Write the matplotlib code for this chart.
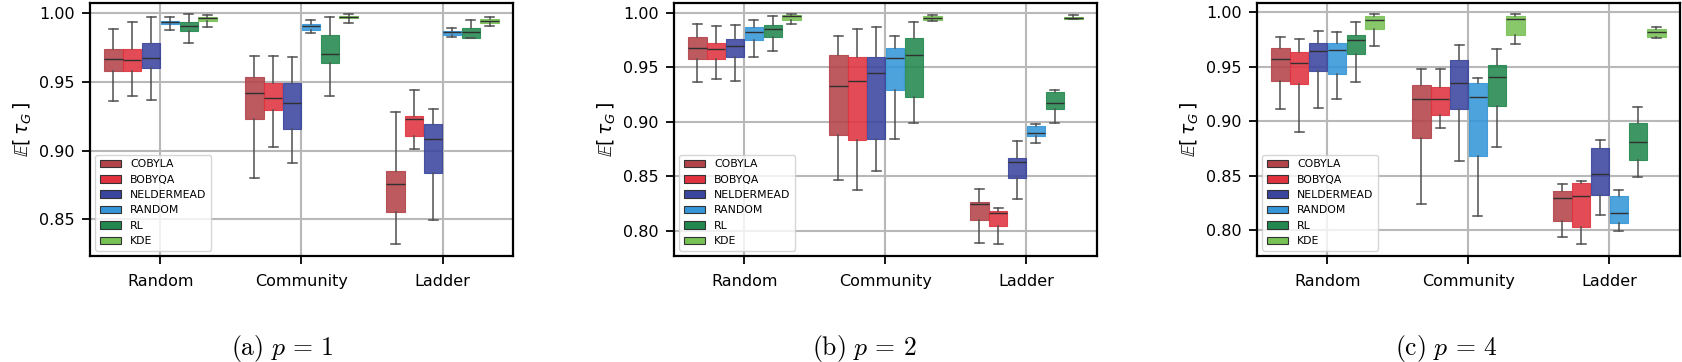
import matplotlib
matplotlib.use("Agg")
import matplotlib.pyplot as plt
from matplotlib.patches import Patch
from matplotlib.ticker import MultipleLocator

methods = ["COBYLA", "BOBYQA", "NELDERMEAD", "RANDOM", "RL", "KDE"]
colors = ["#b3434a", "#e0333f", "#3a459e", "#3496d8", "#23884f", "#78c155"]
graphs = ["Random", "Community", "Ladder"]
captions = [r"$\mathrm{(a)}\ p\,=\,1$", r"$\mathrm{(b)}\ p\,=\,2$", r"$\mathrm{(c)}\ p\,=\,4$"]

# p = 1 : one row per graph type, one value per method
p1_low = [[0.9359, 0.9398, 0.9370, 0.9876, 0.9780, 0.9898],
          [0.8800, 0.9027, 0.8907, 0.9854, 0.9400, 0.9927],
          [0.8317, 0.9010, 0.8493, 0.9829, 0.9817, 0.9905]]
p1_q1 = [[0.9580, 0.9580, 0.9600, 0.9920, 0.9866, 0.9944],
         [0.9232, 0.9298, 0.9159, 0.9876, 0.9634, 0.9963],
         [0.8556, 0.9105, 0.8834, 0.9841, 0.9817, 0.9927]]
p1_med = [[0.9663, 0.9656, 0.9670, 0.9932, 0.9905, 0.9961],
          [0.9415, 0.9385, 0.9349, 0.9905, 0.9700, 0.9973],
          [0.8756, 0.9227, 0.9085, 0.9859, 0.9859, 0.9944]]
p1_q3 = [[0.9741, 0.9740, 0.9780, 0.9941, 0.9932, 0.9973],
         [0.9532, 0.9490, 0.9490, 0.9917, 0.9839, 0.9980],
         [0.8849, 0.9251, 0.9195, 0.9868, 0.9893, 0.9959]]
p1_high = [[0.9885, 0.9932, 0.9968, 0.9968, 0.9990, 0.9983],
           [0.9690, 0.9690, 0.9683, 0.9946, 0.9971, 0.9990],
           [0.9280, 0.9437, 0.9302, 0.9893, 0.9946, 0.9968]]

# p = 2
p2_low = [[0.9366, 0.9391, 0.9372, 0.9600, 0.9655, 0.9898],
          [0.8468, 0.8375, 0.8551, 0.8846, 0.8991, 0.9926],
          [0.7886, 0.7874, 0.8292, 0.8806, 0.8991, 0.9942]]
p2_q1 = [[0.9582, 0.9582, 0.9600, 0.9751, 0.9778, 0.9935],
         [0.8877, 0.8834, 0.8843, 0.9295, 0.9231, 0.9935],
         [0.8102, 0.8040, 0.8486, 0.8871, 0.9123, 0.9942]]
p2_med = [[0.9683, 0.9674, 0.9695, 0.9822, 0.9855, 0.9969],
          [0.9326, 0.9375, 0.9449, 0.9585, 0.9612, 0.9957],
          [0.8249, 0.8166, 0.8634, 0.8898, 0.9178, 0.9951]]
p2_q3 = [[0.9778, 0.9723, 0.9766, 0.9871, 0.9889, 0.9978],
         [0.9612, 0.9600, 0.9594, 0.9677, 0.9769, 0.9969],
         [0.8262, 0.8178, 0.8671, 0.8966, 0.9271, 0.9963]]
p2_high = [[0.9898, 0.9880, 0.9892, 0.9935, 0.9972, 0.9988],
           [0.9788, 0.9858, 0.9868, 0.9788, 0.9914, 0.9978],
           [0.8382, 0.8209, 0.8825, 0.8985, 0.9289, 0.9978]]

# p = 4
p4_low = [[0.9117, 0.8905, 0.9126, 0.9209, 0.9360, 0.9689],
          [0.8243, 0.8938, 0.8637, 0.8129, 0.8766, 0.9708],
          [0.7935, 0.7871, 0.8138, 0.7991, 0.8492, 0.9763]]
p4_q1 = [[0.9372, 0.9345, 0.9458, 0.9437, 0.9615, 0.9852],
         [0.8849, 0.9058, 0.9114, 0.8683, 0.9142, 0.9791],
         [0.8089, 0.8034, 0.8323, 0.8071, 0.8643, 0.9772]]
p4_med = [[0.9569, 0.9535, 0.9643, 0.9652, 0.9745, 0.9929],
          [0.9206, 0.9206, 0.9348, 0.9225, 0.9403, 0.9938],
          [0.8298, 0.8314, 0.8517, 0.8160, 0.8809, 0.9818]]
p4_q3 = [[0.9677, 0.9640, 0.9717, 0.9723, 0.9791, 0.9966],
         [0.9335, 0.9320, 0.9560, 0.9348, 0.9514, 0.9966],
         [0.8357, 0.8434, 0.8760, 0.8314, 0.8982, 0.9846]]
p4_high = [[0.9778, 0.9754, 0.9834, 0.9822, 0.9908, 0.9982],
           [0.9483, 0.9483, 0.9698, 0.9400, 0.9668, 0.9982],
           [0.8425, 0.8449, 0.8828, 0.8369, 0.9135, 0.9862]]

panels = [(p1_low, p1_q1, p1_med, p1_q3, p1_high),
          (p2_low, p2_q1, p2_med, p2_q3, p2_high),
          (p4_low, p4_q1, p4_med, p4_q3, p4_high)]

fig = plt.figure(figsize=(16.82, 3.62), dpi=100)
lefts = [0.0535, 0.4007, 0.7473]
cap_x = [0.1677, 0.5137, 0.8597]
n = len(methods)
w = 0.8 / n

for k, (lo, q1, med, q3, hi) in enumerate(panels):
    ax = fig.add_axes([lefts[k], 0.293, 0.2515, 0.699])
    ax.set_axisbelow(True)
    ax.grid(True, color="#b8b8b8", lw=1.5)
    stats, pos, cols = [], [], []
    for i in range(len(graphs)):
        for j in range(n):
            stats.append(dict(whislo=lo[i][j], q1=q1[i][j], med=med[i][j],
                              q3=q3[i][j], whishi=hi[i][j], fliers=[]))
            pos.append(i - 0.4 + w * (j + 0.5))
            cols.append(colors[j])
    bp = ax.bxp(stats, positions=pos, widths=w * 0.97, patch_artist=True,
                showfliers=False,
                medianprops=dict(color="#303030", lw=1.0),
                whiskerprops=dict(color="#505050", lw=1.1),
                capprops=dict(color="#505050", lw=1.1),
                boxprops=dict(lw=0.8))
    for patch, c in zip(bp["boxes"], cols):
        patch.set_facecolor(c)
        patch.set_edgecolor(c)
        patch.set_alpha(0.88)
    ax.set_xlim(-0.5, 2.5)
    ax.set_xticks(range(len(graphs)))
    ax.set_xticklabels(graphs)
    ax.yaxis.set_major_locator(MultipleLocator(0.05))
    ax.yaxis.set_major_formatter(plt.FormatStrFormatter("%.2f"))
    ax.tick_params(labelsize=11.5, length=6, width=1.3, pad=5)
    ax.tick_params(axis="x", pad=7)
    for s in ax.spines.values():
        s.set_linewidth(1.6)
    ax.set_ylabel(r"$\mathbb{E}[\,\tau_G\,]$", fontsize=13.5, labelpad=4)
    handles = [Patch(facecolor=c, edgecolor="#333333", lw=0.8) for c in colors]
    ax.legend(handles, methods, loc="lower left", fontsize=7.8,
              framealpha=0.8, edgecolor="#cccccc")
    fig.text(cap_x[k], 0.019, captions[k], ha="center", va="baseline",
             fontsize=18.5, math_fontfamily="cm")

fig.savefig("out.png", dpi=100)
